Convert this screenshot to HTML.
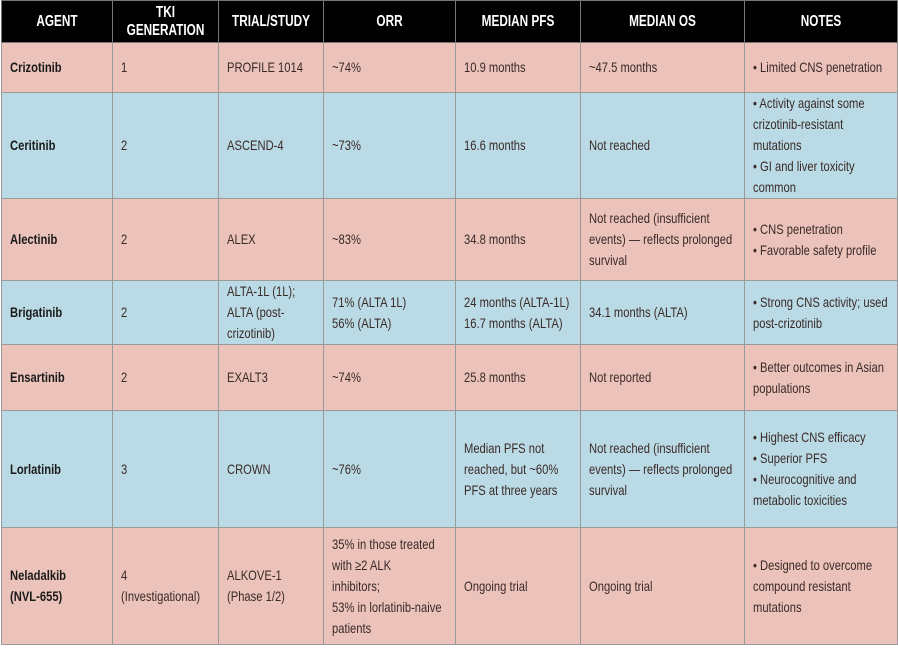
<!DOCTYPE html>
<html><head><meta charset="utf-8"><style>
html,body{margin:0;padding:0;background:#fff;width:898px;height:648px;overflow:hidden}
table{position:absolute;left:1px;top:0;border-collapse:collapse;table-layout:fixed;width:896px;font-family:"Liberation Sans",sans-serif;font-size:14px;line-height:21px;color:#3a2a28}
td,th{border:1px solid #9a9a9a;padding:0 0 0 8px;vertical-align:middle;text-align:left;overflow:hidden;white-space:nowrap}
td div{transform:scaleX(0.8);transform-origin:left center;width:125%}
th{background:#000;color:#fff;font-weight:bold;font-size:15.5px;line-height:18px;border-color:#777;padding:0}
th div{transform:scaleX(0.76);transform-origin:center center;text-align:center}
td:first-child{font-weight:bold;color:#1a1a1a}
tr.p td{background:#ebc3bb}
tr.b td{background:#badbe5}
</style></head><body>
<table>
<colgroup><col style="width:111px"><col style="width:106px"><col style="width:105px"><col style="width:132px"><col style="width:125px"><col style="width:164px"><col style="width:153px"></colgroup>
<tr style="height:42px"><th><div>AGENT</div></th><th><div>TKI<br>GENERATION</div></th><th><div>TRIAL/STUDY</div></th><th><div>ORR</div></th><th><div>MEDIAN PFS</div></th><th><div>MEDIAN OS</div></th><th><div>NOTES</div></th></tr>
<tr class="p" style="height:50px"><td><div>Crizotinib</div></td><td><div>1</div></td><td><div>PROFILE 1014</div></td><td><div>~74%</div></td><td><div>10.9 months</div></td><td><div>~47.5 months</div></td><td><div>• Limited CNS penetration</div></td></tr>
<tr class="b" style="height:105px"><td><div>Ceritinib</div></td><td><div>2</div></td><td><div>ASCEND-4</div></td><td><div>~73%</div></td><td><div>16.6 months</div></td><td><div>Not reached</div></td><td><div>• Activity against some<br>crizotinib-resistant<br>mutations<br>• GI and liver toxicity<br>common</div></td></tr>
<tr class="p" style="height:82px"><td><div>Alectinib</div></td><td><div>2</div></td><td><div>ALEX</div></td><td><div>~83%</div></td><td><div>34.8 months</div></td><td><div>Not reached (insufficient<br>events) — reflects prolonged<br>survival</div></td><td><div>• CNS penetration<br>• Favorable safety profile</div></td></tr>
<tr class="b" style="height:64px"><td><div>Brigatinib</div></td><td><div>2</div></td><td><div>ALTA-1L (1L);<br>ALTA (post-<br>crizotinib)</div></td><td><div>71% (ALTA 1L)<br>56% (ALTA)</div></td><td><div>24 months (ALTA-1L)<br>16.7 months (ALTA)</div></td><td><div>34.1 months (ALTA)</div></td><td><div>• Strong CNS activity; used<br>post-crizotinib</div></td></tr>
<tr class="p" style="height:66px"><td><div>Ensartinib</div></td><td><div>2</div></td><td><div>EXALT3</div></td><td><div>~74%</div></td><td><div>25.8 months</div></td><td><div>Not reported</div></td><td><div>• Better outcomes in Asian<br>populations</div></td></tr>
<tr class="b" style="height:117px"><td><div>Lorlatinib</div></td><td><div>3</div></td><td><div>CROWN</div></td><td><div>~76%</div></td><td><div>Median PFS not<br>reached, but ~60%<br>PFS at three years</div></td><td><div>Not reached (insufficient<br>events) — reflects prolonged<br>survival</div></td><td><div>• Highest CNS efficacy<br>• Superior PFS<br>• Neurocognitive and<br>metabolic toxicities</div></td></tr>
<tr class="p" style="height:117px"><td><div>Neladalkib<br>(NVL-655)</div></td><td><div>4<br>(Investigational)</div></td><td><div>ALKOVE-1<br>(Phase 1/2)</div></td><td><div>35% in those treated<br>with ≥2 ALK<br>inhibitors;<br>53% in lorlatinib-naive<br>patients</div></td><td><div>Ongoing trial</div></td><td><div>Ongoing trial</div></td><td><div>• Designed to overcome<br>compound resistant<br>mutations</div></td></tr>
</table>
</body></html>
